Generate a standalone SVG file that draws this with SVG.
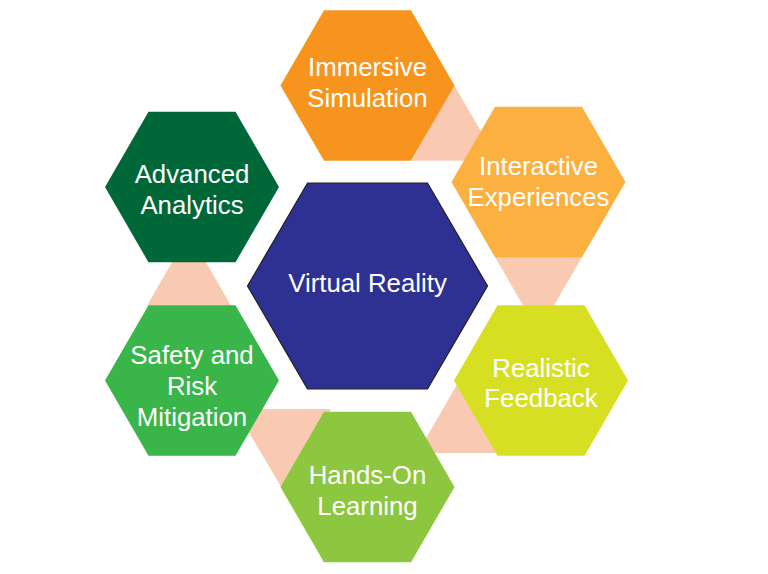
<svg xmlns="http://www.w3.org/2000/svg" xmlns:xlink="http://www.w3.org/1999/xlink" width="768" height="574" viewBox="0 0 768 574">
  <style>
    .lbl { font-family: "Liberation Sans", Arial, sans-serif; font-size: 25.8px; fill: #ffffff; text-anchor: middle; }
    .tri { fill: #F9C9B1; }
  </style>
  <defs>
    <polygon id="hex" points="-87,0 -43.5,-75.3 43.5,-75.3 87,0 43.5,75.3 -43.5,75.3"/>
    <polygon id="hexc" points="-120,0 -60,-103 60,-103 120,0 60,103 -60,103"/>
  </defs>
  <rect width="768" height="574" fill="#ffffff"/>
  <g id="connectors">
    <polygon class="tri" points="454,85 498,160.8 411.5,160.8"/>
    <polygon class="tri" points="495,257 582,257 538.5,332"/>
    <polygon class="tri" points="461,377.5 504.5,453 417.5,453"/>
    <polygon class="tri" points="235,409 331,409 283,490"/>
    <polygon class="tri" points="189,233 230.9,305.5 147.1,305.5"/>
  </g>
  <g id="node-center">
    <use xlink:href="#hexc" x="367.5" y="286" fill="#2E3192" stroke="#231F20" stroke-width="1.2"/>
    <text class="lbl" x="367.5" y="292">Virtual Reality</text>
  </g>
  <g id="node-immersive">
    <use xlink:href="#hex" x="367.5" y="85.5" fill="#F7941D"/>
    <text class="lbl" x="367.5" y="75.5">Immersive</text>
    <text class="lbl" x="367.5" y="106.5">Simulation</text>
  </g>
  <g id="node-interactive">
    <use xlink:href="#hex" x="538.5" y="182" fill="#FBB040"/>
    <text class="lbl" x="538.5" y="175">Interactive</text>
    <text class="lbl" x="538.5" y="206">Experiences</text>
  </g>
  <g id="node-realistic">
    <use xlink:href="#hex" x="541" y="380.5" fill="#D7DF23"/>
    <text class="lbl" x="541" y="376.5">Realistic</text>
    <text class="lbl" x="541" y="407">Feedback</text>
  </g>
  <g id="node-handson">
    <use xlink:href="#hex" x="367.5" y="487" fill="#8DC63F"/>
    <text class="lbl" x="367.5" y="483.5">Hands-On</text>
    <text class="lbl" x="367.5" y="514.5">Learning</text>
  </g>
  <g id="node-safety">
    <use xlink:href="#hex" x="192" y="380.5" fill="#39B54A"/>
    <text class="lbl" x="192" y="363.5">Safety and</text>
    <text class="lbl" x="192" y="394.5">Risk</text>
    <text class="lbl" x="192" y="425.5">Mitigation</text>
  </g>
  <g id="node-analytics">
    <use xlink:href="#hex" x="192" y="187" fill="#006838"/>
    <text class="lbl" x="192" y="183">Advanced</text>
    <text class="lbl" x="192" y="214">Analytics</text>
  </g>
</svg>
